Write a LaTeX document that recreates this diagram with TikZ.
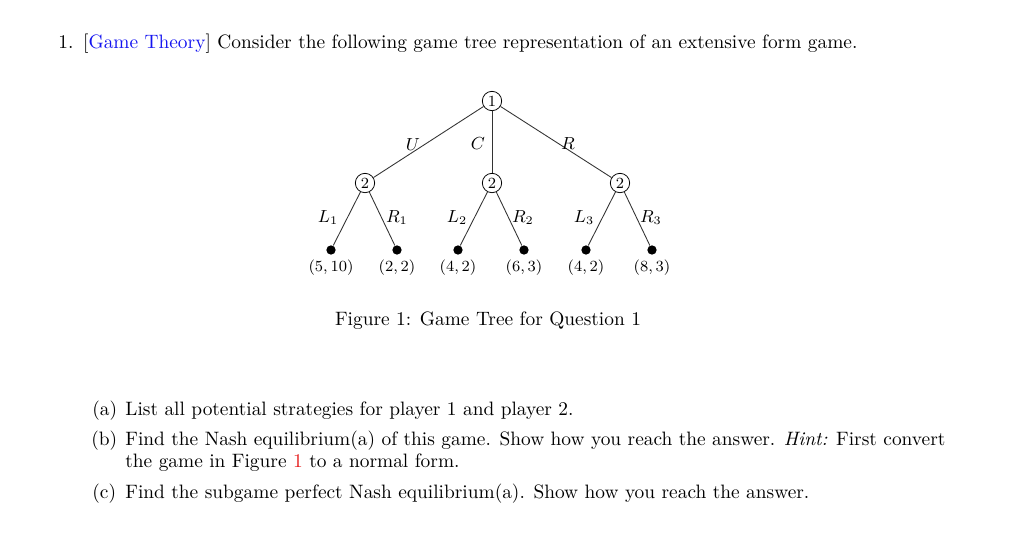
\documentclass[tikz,border=0pt]{standalone}
\usepackage{amsmath}
\definecolor{linkblue}{RGB}{20,20,240}
\definecolor{refred}{RGB}{230,30,30}
\begin{document}
\begin{tikzpicture}[x=0.516pt,y=-0.516pt,
  dec/.style={draw,circle,inner sep=0pt,minimum size=10pt,font=\footnotesize},
  leaf/.style={fill,circle,inner sep=0pt,minimum size=4.8pt},
  edge/.style={draw,line width=0.45pt,black!80},
  elab/.style={font=\small,inner sep=1pt},
  pay/.style={font=\footnotesize,inner sep=0pt},
  txt/.style={anchor=base west,inner sep=0pt,font=\normalsize}]
\useasboundingbox (0,0) rectangle (1024,551);
% header
\node[txt] (q1) at (58,48) {1.\enspace[{\color{linkblue}Game Theory}] Consider the following game tree representation of an extensive form game.};
% tree
\node[dec] (r) at (492,101) {1};
\node[dec] (a) at (365,183) {2};
\node[dec] (b) at (492,183) {2};
\node[dec] (c) at (620,183) {2};
\node[leaf] (l1) at (331,250) {};
\node[leaf] (l2) at (397,250) {};
\node[leaf] (l3) at (458,250) {};
\node[leaf] (l4) at (524,250) {};
\node[leaf] (l5) at (586,250) {};
\node[leaf] (l6) at (652,250) {};
\draw[edge] (r) -- (a);
\draw[edge] (r) -- (b);
\draw[edge] (r) -- (c);
\draw[edge] (a) -- (l1);
\draw[edge] (a) -- (l2);
\draw[edge] (b) -- (l3);
\draw[edge] (b) -- (l4);
\draw[edge] (c) -- (l5);
\draw[edge] (c) -- (l6);
\node[elab] (tU) at (413,145) {$U$};
\node[elab] (tC) at (478,144) {$C$};
\node[elab] (tR) at (568,144) {$R$};
\node[elab] (t1) at (328,218) {$L_1$};
\node[elab] (t2) at (397,218) {$R_1$};
\node[elab] (t3) at (457,218) {$L_2$};
\node[elab] (t4) at (523,218) {$R_2$};
\node[elab] (t5) at (584,218) {$L_3$};
\node[elab] (t6) at (651,218) {$R_3$};
\node[pay] (p1) at (331,268) {$(5,10)$};
\node[pay] (p2) at (397,268) {$(2,2)$};
\node[pay] (p3) at (458,268) {$(4,2)$};
\node[pay] (p4) at (524,268) {$(6,3)$};
\node[pay] (p5) at (586,268) {$(4,2)$};
\node[pay] (p6) at (652,268) {$(8,3)$};
% caption
\node[anchor=base,inner sep=0pt] (cap) at (488,325) {Figure 1: Game Tree for Question 1};
% items
\node[txt] (ia) at (92,415) {(a)};
\node[txt] (ta) at (125,415) {List all potential strategies for player 1 and player 2.};
\node[txt] (ib) at (91,445) {(b)};
\node[txt] (tb) at (125,445) {Find the Nash equilibrium(a) of this game. Show how you reach the answer. \textit{Hint:} First convert};
\node[txt] (tb2) at (125,467) {the game in Figure {\color{refred}1} to a normal form.};
\node[txt] (ic) at (92,498) {(c)};
\node[txt] (tc) at (125,498) {Find the subgame perfect Nash equilibrium(a). Show how you reach the answer.};
\end{tikzpicture}
\end{document}
